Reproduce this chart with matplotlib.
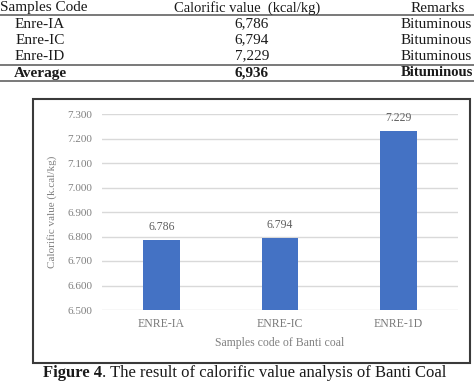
import matplotlib
matplotlib.use("Agg")
import matplotlib.pyplot as plt
from matplotlib.lines import Line2D
from matplotlib.patches import Rectangle

# ---- data ----
table_codes = ["Enre-IA", "Enre-IC", "Enre-ID"]
table_values = ["6,786", "6,794", "7,229"]
table_remarks = ["Bituminous", "Bituminous", "Bituminous"]
avg_value = "6,936"
avg_remark = "Bituminous"

categories = ["ENRE-IA", "ENRE-IC", "ENRE-1D"]
values = [6.786, 6.794, 7.229]
yticks = [6.5, 6.6, 6.7, 6.8, 6.9, 7.0, 7.1, 7.2, 7.3]

W, H = 474, 385
plt.rcParams['font.family'] = ['Liberation Serif', 'DejaVu Serif']
fig = plt.figure(figsize=(W / 100, H / 100), dpi=100)
fig.patch.set_facecolor("white")

def fx(x):
    return x / W

def fy(y):
    return 1 - y / H

# ---- table ----
tc = "#1a1a1a"
fig.text(fx(44), fy(8), "Samples Code", ha="center", va="center", fontsize=11, color=tc)
fig.text(fx(247), fy(8), "Calorific value  (kcal/kg)", ha="center", va="center", fontsize=10.5, color=tc)
fig.text(fx(438), fy(8), "Remarks", ha="center", va="center", fontsize=11, color=tc)
row_y = [24, 40, 56]
for y, c, v, r in zip(row_y, table_codes, table_values, table_remarks):
    fig.text(fx(40), fy(y), c, ha="center", va="center", fontsize=11, color=tc)
    fig.text(fx(252), fy(y), v, ha="center", va="center", fontsize=11, color=tc)
    fig.text(fx(472), fy(y), r, ha="right", va="center", fontsize=11, color=tc)
fig.text(fx(40), fy(73), "Average", ha="center", va="center", fontsize=11, color=tc, fontweight="bold")
fig.text(fx(252), fy(73), avg_value, ha="center", va="center", fontsize=11, color=tc, fontweight="bold")
fig.text(fx(473), fy(73), avg_remark, ha="right", va="center", fontsize=10.5, color=tc, fontweight="bold")
for y in [14.5, 65, 81]:
    fig.add_artist(Line2D([0, 1], [fy(y), fy(y)], transform=fig.transFigure, color="#555555", lw=1.1))

# ---- chart frame ----
fig.add_artist(Rectangle((fx(33), fy(363)), fx(470) - fx(33), fy(99) - fy(363),
                         transform=fig.transFigure, fill=False, edgecolor="#3a3a3a", lw=1.5))

# ---- chart ----
ax = fig.add_axes([fx(102), fy(310), fx(458) - fx(102), fy(114) - fy(310)])
x = list(range(len(categories)))
ax.bar(x, [v - 6.5 for v in values], bottom=6.5, width=0.31, color="#4472C4", zorder=3)
ax.set_xlim(-0.5, 2.5)
ax.set_ylim(6.5, 7.3)
ax.set_yticks(yticks)
ax.set_yticklabels([f"{t:.3f}" for t in yticks], fontsize=8, color="#808080")
ax.set_xticks(x)
ax.set_xticklabels(categories, fontsize=8.5, color="#7a7a7a")
ax.tick_params(axis="both", length=0)
ax.tick_params(axis="y", pad=7)
ax.tick_params(axis="x", pad=6)
ax.grid(axis="y", color="#d9d9d9", lw=1, zorder=0)
for s in ax.spines.values():
    s.set_visible(False)
for xi, v in zip(x, values):
    ax.annotate(f"{v:.3f}", (xi, v), xytext=(0, 5), textcoords="offset points",
                ha="center", va="bottom", fontsize=8.5, color="#606060")
ax.set_xlabel("Samples code of Banti coal", fontsize=8.5, color="#808080", labelpad=5)
ax.set_ylabel("Calorific value (k.cal/kg)", fontsize=8, color="#808080")
ax.yaxis.set_label_coords((57 - 102) / (458 - 102), 0.5)

# ---- caption ----
fig.canvas.draw()
r = fig.canvas.get_renderer()
t1 = fig.text(0, fy(373), "Figure 4", ha="left", va="center", fontsize=12, fontweight="bold", color=tc)
t2 = fig.text(0, fy(373), ". The result of calorific value analysis of Banti Coal",
              ha="left", va="center", fontsize=12, color=tc)
w1 = t1.get_window_extent(r).width
w2 = t2.get_window_extent(r).width
start = 245 - (w1 + w2) / 2
t1.set_x(fx(start))
t2.set_x(fx(start + w1))

fig.savefig("out.png", dpi=100)
